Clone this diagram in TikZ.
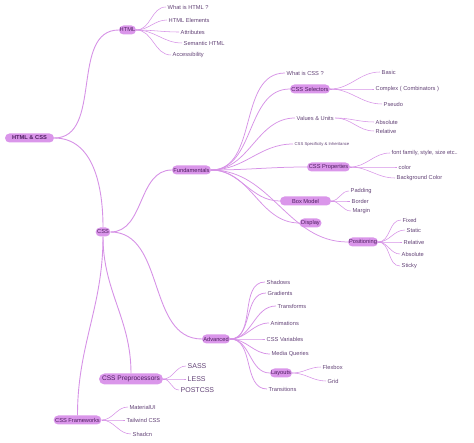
\documentclass[tikz,border=0pt]{standalone}
\usepackage{fontspec}
\setmainfont{Liberation Sans}
\usepackage{xcolor}
\usetikzlibrary{shapes.misc, positioning}
\definecolor{twigline}{RGB}{214, 146, 230}
\definecolor{pillfill}{RGB}{218, 150, 234}
\definecolor{pilltext}{RGB}{78, 30, 96}
\definecolor{leaftext}{RGB}{98, 66, 118}

\begin{document}
\begin{tikzpicture}[x=1pt, y=-1pt,
    pill/.style={rounded rectangle, fill=pillfill, text=pilltext, inner sep=1pt,
                 minimum height=9pt, font=\fontsize{5.7}{6}\selectfont},
    leaf/.style={anchor=west, text=leaftext, inner sep=1.5pt, font=\fontsize{5.7}{6}\selectfont},
    bigleaf/.style={leaf, font=\fontsize{7}{8}\selectfont},
    trunk/.style={draw=twigline, line width=0.9pt, out=0, in=180},
    branch/.style={draw=twigline, line width=0.75pt, out=0, in=180},
    twig/.style={draw=twigline, line width=0.55pt, out=0, in=180}]
    \useasboundingbox (0,0) rectangle (474,443);

    % Main topics
    \node[pill, minimum width=51pt, font=\fontsize{5.7}{6}\selectfont\bfseries] (root) at (29.5,138) {HTML \& CSS};
    \node[pill, minimum width=19pt] (html) at (127.5,30) {HTML};
    \node[pill, minimum width=14pt] (css) at (103,232) {CSS};
    \node[pill, minimum width=41pt] (fund) at (191.5,170) {Fundamentals};
    \node[pill, minimum width=30pt] (adv) at (216,339) {Advanced};
    \node[pill, minimum width=66pt, minimum height=11pt, font=\fontsize{6.6}{7}\selectfont] (prep) at (131,379) {CSS Preprocessors};
    \node[pill, minimum width=45pt] (frame) at (77.5,420) {CSS Frameworks};

    % HTML
    \node[leaf] (whathtml) at (166,7) {What is HTML ?};
    \node[leaf] (elements) at (167,20) {HTML Elements};
    \node[leaf] (attrib) at (179,32) {Attributes};
    \node[leaf] (semantic) at (182,43) {Semantic HTML};
    \node[leaf] (access) at (171,55) {Accessibility};

    % Fundamentals
    \node[leaf] (whatcss) at (285,73) {What is CSS ?};
    \node[pill, minimum width=42pt] (select) at (310,89) {CSS Selectors};
    \node[leaf] (values) at (295,118) {Values \& Units};
    \node[leaf, font=\fontsize{4.2}{5}\selectfont] (specif) at (293,144) {CSS Specificity \& Inheritance};
    \node[pill, minimum width=43pt] (props) at (328.5,167) {CSS Properties};
    \node[pill, minimum width=53pt] (boxm) at (305.5,201) {Box Model};
    \node[pill, minimum width=24pt] (disp) at (310.5,223) {Display};
    \node[pill, minimum width=32pt] (posit) at (363,242) {Positioning};

    \node[leaf] (basic) at (380,72) {Basic};
    \node[leaf] (complex) at (374,89) {Complex ( Combinators )};
    \node[leaf] (pseudo) at (382,104) {Pseudo};
    \node[leaf] (absunit) at (374,122) {Absolute};
    \node[leaf] (relunit) at (374,131) {Relative};
    \node[leaf] (fontfam) at (390,153) {font family, style, size etc..};
    \node[leaf] (color) at (397,167) {color};
    \node[leaf] (bgcolor) at (395,178) {Background Color};
    \node[leaf] (padding) at (349,191) {Padding};
    \node[leaf] (border) at (350,201) {Border};
    \node[leaf] (margin) at (351,211) {Margin};
    \node[leaf] (fixed) at (401,220) {Fixed};
    \node[leaf] (static) at (405,230) {Static};
    \node[leaf] (relpos) at (402,242) {Relative};
    \node[leaf] (abspos) at (400,254) {Absolute};
    \node[leaf] (sticky) at (400,266) {Sticky};

    % Advanced
    \node[leaf] (shadows) at (265,282) {Shadows};
    \node[leaf] (gradients) at (266,293) {Gradients};
    \node[leaf] (transforms) at (276,306) {Transforms};
    \node[leaf] (anim) at (269,323) {Animations};
    \node[leaf] (vars) at (265,339) {CSS Variables};
    \node[leaf] (media) at (270,354) {Media Queries};
    \node[pill, minimum width=24pt] (layouts) at (281,373) {Layouts};
    \node[leaf] (trans) at (267,389) {Transitions};
    \node[leaf] (flexbox) at (321,367) {Flexbox};
    \node[leaf] (grid) at (326,381) {Grid};

    % Preprocessors and frameworks
    \node[bigleaf] (sass) at (186,366) {SASS};
    \node[bigleaf] (less) at (186,379) {LESS};
    \node[bigleaf] (postcss) at (179,390) {POSTCSS};
    \node[leaf] (material) at (128,407) {MaterialUI};
    \node[leaf] (tailwind) at (125,420) {Tailwind CSS};
    \node[leaf] (shadcn) at (131,434) {Shadcn};

    % Connections
    \draw[trunk] (root.east) to (html.west);
    \draw[trunk, in=90] (root.east) to (css.north);
    \draw[trunk] (css.east) to (fund.west);
    \draw[trunk] (css.east) to (adv.west);
    \draw[trunk, out=-90, in=90] (css.south) to (prep.north);
    \draw[trunk, out=-90, in=90] (css.south) to (frame.north);

    \draw[twig] (html.east) to (whathtml.west);
    \draw[twig] (html.east) to (elements.west);
    \draw[twig] (html.east) to (attrib.west);
    \draw[twig] (html.east) to (semantic.west);
    \draw[twig] (html.east) to (access.west);

    \draw[branch] (fund.east) to (whatcss.west);
    \draw[branch] (fund.east) to (select.west);
    \draw[branch] (fund.east) to (values.west);
    \draw[branch] (fund.east) to (specif.west);
    \draw[branch] (fund.east) to (props.west);
    \draw[branch] (fund.east) to (boxm.west);
    \draw[branch] (fund.east) to (disp.west);
    \draw[branch] (fund.east) to (posit.west);

    \draw[twig] (select.east) to (basic.west);
    \draw[twig] (select.east) to (complex.west);
    \draw[twig] (select.east) to (pseudo.west);
    \draw[twig] (values.east) to (absunit.west);
    \draw[twig] (values.east) to (relunit.west);
    \draw[twig] (props.east) to (fontfam.west);
    \draw[twig] (props.east) to (color.west);
    \draw[twig] (props.east) to (bgcolor.west);
    \draw[twig] (boxm.east) to (padding.west);
    \draw[twig] (boxm.east) to (border.west);
    \draw[twig] (boxm.east) to (margin.west);
    \draw[twig] (posit.east) to (fixed.west);
    \draw[twig] (posit.east) to (static.west);
    \draw[twig] (posit.east) to (relpos.west);
    \draw[twig] (posit.east) to (abspos.west);
    \draw[twig] (posit.east) to (sticky.west);

    \draw[branch] (adv.east) to (shadows.west);
    \draw[branch] (adv.east) to (gradients.west);
    \draw[branch] (adv.east) to (transforms.west);
    \draw[branch] (adv.east) to (anim.west);
    \draw[branch] (adv.east) to (vars.west);
    \draw[branch] (adv.east) to (media.west);
    \draw[branch] (adv.east) to (layouts.west);
    \draw[branch] (adv.east) to (trans.west);
    \draw[twig] (layouts.east) to (flexbox.west);
    \draw[twig] (layouts.east) to (grid.west);

    \draw[twig] (prep.east) to (sass.west);
    \draw[twig] (prep.east) to (less.west);
    \draw[twig] (prep.east) to (postcss.west);
    \draw[twig] (frame.east) to (material.west);
    \draw[twig] (frame.east) to (tailwind.west);
    \draw[twig] (frame.east) to (shadcn.west);
\end{tikzpicture}
\end{document}
